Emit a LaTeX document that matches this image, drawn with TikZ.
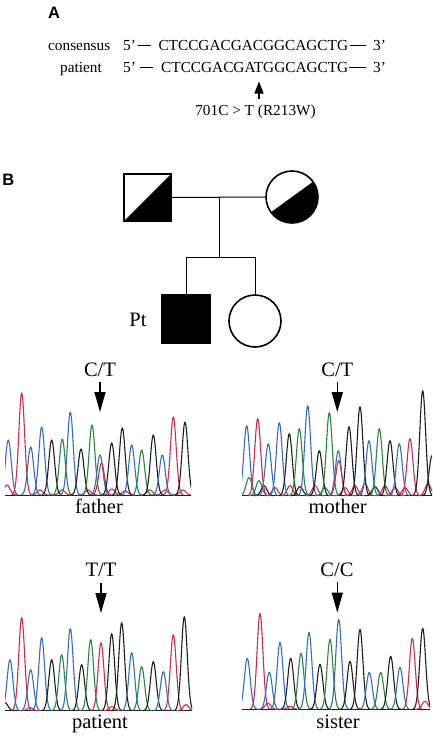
\documentclass[tikz,border=0pt]{standalone}
\usepackage{fontspec}
\setmainfont{Liberation Serif}
\newfontfamily\hsans{Liberation Sans}
\usetikzlibrary{arrows.meta,calc}
\definecolor{chblue}{RGB}{52,112,185}
\definecolor{chred}{RGB}{200,48,78}
\definecolor{chgreen}{RGB}{40,135,62}
\definecolor{chblack}{RGB}{28,32,32}
\newcommand\chartpeaks[2]{%
  \foreach \c/\h/\col in {#2}{%
    \draw[\col, trace] plot[domain=\c-10:\c+10, samples=35, smooth] (\x,{#1-\h*exp(-((\x-\c)^2)/17)});
  }}
\begin{document}
\begin{tikzpicture}[x=1pt,y=-1pt,
  seqtxt/.style={font=\fontsize{15.3}{18}\selectfont, inner sep=0pt},
  gtxt/.style={font=\fontsize{20.5}{24}\selectfont, inner sep=0pt, anchor=base},
  panel/.style={font=\hsans\bfseries\fontsize{16.5}{19}\selectfont, inner sep=0pt, anchor=base},
  thinline/.style={line width=0.9pt},
  smallarr/.style={line width=1.3pt, -{Triangle[length=12pt,width=9pt]}},
  bigarr/.style={line width=1.6pt, -{Triangle[length=20pt,width=11pt]}},
  sq/.style={draw, rectangle, line width=1.6pt, minimum size=47pt, inner sep=0pt},
  circ/.style={draw, circle, line width=1.6pt, minimum size=52pt, inner sep=0pt},
  ped/.style={line width=1pt},
  trace/.style={line width=1.1pt, line join=round}]
\useasboundingbox (0,0) rectangle (432,736);
\fill[white] (0,0) rectangle (432,736);

% ---------- Panel A ----------
\node[panel] (pA) at (54,18.3) {A};
\node[seqtxt, anchor=base west] (lcons) at (48,50.5) {consensus};
\node[seqtxt, anchor=base west] (lpat) at (60,72) {patient};
\node[seqtxt, anchor=base west] (c5) at (123,50.5) {5'};
\node[seqtxt, anchor=base west] (cseq) at (158.3,50.5) {CTCCGACGACGGCAGCTG};
\node[seqtxt, anchor=base west] (c3) at (373,50.5) {3'};
\node[seqtxt, anchor=base west] (p5) at (123,72) {5'};
\node[seqtxt, anchor=base west] (pseq) at (161,72) {CTCCGACGATGGCAGCTG};
\node[seqtxt, anchor=base west] (p3) at (373,72) {3'};
\draw[thinline] ($(c5.base east)+(1.5,-4.6)$) -- ($(cseq.base west)+(-7,-4.6)$);
\draw[thinline] ($(cseq.base east)+(2,-4.6)$) -- ($(c3.base west)+(-7,-4.6)$);
\draw[thinline] ($(p5.base east)+(3.5,-4.6)$) -- ($(pseq.base west)+(-8,-4.6)$);
\draw[thinline] ($(pseq.base east)+(1,-4.6)$) -- ($(p3.base west)+(-7,-4.6)$);
\node[seqtxt, anchor=base] (mutlab) at (255.5,115) {701C > T (R213W)};
\coordinate (mutlow) at (259,99);
\coordinate (muttip) at (259,81.5);
\draw[smallarr] (mutlow) -- (muttip);

% ---------- Panel B: pedigree ----------
\node[panel] (pB) at (8.3,185) {B};
\node[sq, path picture={\fill (path picture bounding box.south west) -- (path picture bounding box.south east) -- (path picture bounding box.north east) -- cycle;}] (fa) at (147.5,197.5) {};
\node[circ, path picture={\fill ($(path picture bounding box.center)+(36:40pt)$) -- ($(path picture bounding box.center)+(216:40pt)$) -- ++(-54:60pt) -- ++(36:80pt) -- cycle;}] (mo) at (292,197) {};
\node[sq, fill=black, minimum size=48pt] (pt) at (186,319) {};
\node[circ] (si) at (255,321) {};
\node[gtxt] (ptl) at (138,326.5) {Pt};
\coordinate (desc) at (219,197);
\coordinate (sibmid) at (219,257);
\coordinate (sl) at (186,257);
\coordinate (sr) at (255,257);
\draw[ped] (fa.east) -- (mo.west);
\draw[ped] (desc) -- (sibmid);
\draw[ped] (sl) -- (sr);
\draw[ped] (sl) -- (pt.north);
\draw[ped] (sr) -- (si.north);

% ---------- Chromatogram labels and arrows ----------
\node[gtxt] (gfa) at (100,376) {C/T};
\node[gtxt] (gmo) at (337.3,376) {C/T};
\node[gtxt] (gpt) at (101,576) {T/T};
\node[gtxt] (gsi) at (337,576) {C/C};
\coordinate (fat) at (100,381.5); \coordinate (fab) at (100,412);
\coordinate (mot) at (337.3,381.5); \coordinate (mob) at (337.3,412);
\coordinate (ptt) at (101,582.5); \coordinate (ptb) at (101,613);
\coordinate (sit) at (337.3,582); \coordinate (sib) at (337.3,612.5);
\draw[bigarr] (fat) -- (fab);
\draw[bigarr] (mot) -- (mob);
\draw[bigarr] (ptt) -- (ptb);
\draw[bigarr] (sit) -- (sib);
\node[gtxt] (nfa) at (99,513) {father};
\node[gtxt] (nmo) at (337.7,513) {mother};
\node[gtxt] (npt) at (100,728) {patient};
\node[gtxt] (nsi) at (338,728) {sister};

% ---------- father trace ----------
\begin{scope}
\clip (5,370) rectangle (191,497);
\draw[chblack, line width=0.8pt] (5,495) -- (191,495);
\chartpeaks{495}{7/10/chred, 40/5/chred, 62/5/chred, 88/5/chred, 112/6/chred, 125/4/chred, 150/5/chred, 165/5/chred, 183/5/chred,
8.3/55/chblue, 21.7/102/chred, 30.7/48/chblue, 41.7/68/chblue, 51.7/55/chblack, 62.3/56/chgreen, 70.3/83/chblue, 81/46/chblack, 92/70/chgreen, 100/40/chblue, 101.5/32/chred, 111.7/52/chblack, 122.3/67/chblack, 131.7/50/chblue, 141.7/45/chgreen, 153.3/60/chblack, 162.3/40/chblue, 173.3/78/chred, 185/73/chblack}
\end{scope}

% ---------- mother trace ----------
\begin{scope}
\clip (242,370) rectangle (432,497.5);
\draw[chblack, line width=0.8pt] (242,495.7) -- (432,495.7);
\chartpeaks{495.7}{249/18/chgreen, 259/15/chgreen, 264/10/chblack, 275/8/chred, 290/10/chred, 300/9/chblack, 315/10/chred, 325/8/chgreen, 345/8/chred, 355/10/chred, 365/12/chred, 375/9/chblack, 385/10/chred, 395/8/chred, 405/8/chred, 428/12/chred,
246.7/70/chblue, 257.7/77/chred, 268.3/52/chblue, 279.3/73/chblue, 289.3/62/chblack, 299.3/67/chgreen, 307.7/90/chblue, 319.3/45/chblack, 329.3/83/chgreen, 338.3/45/chblue, 338.8/35/chred, 349/69/chblack, 360/89/chblack, 369/55/chblue, 379.3/67/chgreen, 390/55/chblack, 399.3/52/chblue, 410/57/chred, 422.7/105/chblack, 432/40/chblack}
\end{scope}

% ---------- patient trace ----------
\begin{scope}
\clip (5,590) rectangle (192,712.5);
\draw[chblack, line width=0.8pt] (5,710.7) -- (192,710.7);
\chartpeaks{710.7}{5/8/chblack, 30/3/chred, 112/4/chred, 186/6/chred,
10/51/chblue, 21.7/93/chred, 30.7/41/chblue, 41.7/73/chblue, 51.7/51/chblack, 61.7/56/chgreen, 70.3/82/chblue, 81.7/46/chblack, 90.7/71/chgreen, 101/68/chred, 111.7/77/chblack, 121.7/88/chblack, 131.7/58/chblue, 141.7/44/chgreen, 153.3/49/chblack, 163.3/39/chblue, 173.3/76/chred, 184.3/94/chblack}
\end{scope}

% ---------- sister trace ----------
\begin{scope}
\clip (242,590) rectangle (430,711);
\draw[chblack, line width=0.8pt] (242,709.3) -- (430,709.3);
\chartpeaks{709.3}{268/6/chred, 290/3/chred, 425/8/chred,
247.3/51/chblue, 260/96/chred, 269.3/37/chblue, 280/67/chblue, 290.7/51/chblack, 301/56/chgreen, 309/77/chblue, 320/45/chblack, 330/70/chgreen, 338.7/90/chblue, 350/48/chblack, 360/80/chblack, 369.3/37/chblue, 380.7/37/chgreen, 390.7/53/chblack, 400/42/chblue, 412.3/71/chred, 422.7/81/chblack}
\end{scope}
\end{tikzpicture}
\end{document}
